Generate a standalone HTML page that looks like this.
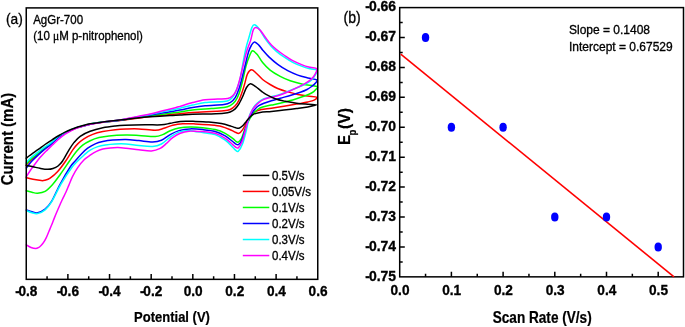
<!DOCTYPE html>
<html><head><meta charset="utf-8"><title>Figure</title>
<style>html,body{margin:0;padding:0;background:#fff}svg{display:block}text{font-family:"Liberation Sans",sans-serif;fill:#000}.b{font-weight:bold}</style></head><body>
<svg width="685" height="327" viewBox="0 0 685 327">
<rect width="685" height="327" fill="#fff"/>
<g fill="none" stroke-width="1.5" stroke-linejoin="round" stroke-linecap="round">
<path stroke="#f00" d="M26.40 164.90C26.83 164.42 28.03 162.97 29.00 162.00C29.97 161.03 30.65 160.42 32.20 159.10C33.75 157.78 36.25 155.78 38.30 154.10C40.35 152.42 42.45 150.63 44.50 149.00C46.55 147.37 48.18 146.38 50.60 144.30C53.02 142.22 56.58 138.38 59.00 136.50C61.42 134.62 63.10 134.05 65.10 133.00C67.10 131.95 68.90 131.10 71.00 130.20C73.10 129.30 74.50 128.58 77.70 127.60C80.90 126.62 86.02 125.18 90.20 124.30C94.38 123.42 97.83 122.95 102.80 122.30C107.77 121.65 112.13 121.35 120.00 120.40C127.87 119.45 141.67 117.57 150.00 116.60C158.33 115.63 165.00 115.08 170.00 114.60C175.00 114.12 176.23 114.07 180.00 113.70C183.77 113.33 187.37 112.78 192.60 112.40C197.83 112.02 206.18 111.67 211.40 111.40C216.62 111.13 220.77 111.12 223.90 110.80C227.03 110.48 228.32 110.35 230.20 109.50C232.08 108.65 233.73 107.27 235.20 105.70C236.67 104.13 237.73 102.72 239.00 100.10C240.27 97.48 241.80 92.92 242.80 90.00C243.80 87.08 244.22 85.28 245.00 82.60C245.78 79.92 246.42 76.03 247.50 73.90C248.58 71.77 250.03 69.92 251.50 69.80C252.97 69.68 254.45 71.58 256.30 73.20C258.15 74.82 260.30 77.62 262.60 79.50C264.90 81.38 267.58 83.00 270.10 84.50C272.62 86.00 274.77 87.27 277.70 88.50C280.63 89.73 284.35 90.92 287.70 91.90C291.05 92.88 294.45 93.72 297.80 94.40C301.15 95.08 304.63 95.53 307.80 96.00C310.97 96.47 315.75 96.52 316.80 97.20C317.85 97.88 315.60 99.32 314.10 100.10C312.60 100.88 310.73 101.23 307.80 101.90C304.87 102.57 300.48 103.37 296.50 104.10C292.52 104.83 288.08 105.62 283.90 106.30C279.72 106.98 275.17 107.67 271.40 108.20C267.63 108.73 264.02 108.93 261.30 109.50C258.58 110.07 256.77 110.67 255.10 111.60C253.43 112.53 252.40 113.87 251.30 115.10C250.20 116.33 249.30 117.73 248.50 119.00C247.70 120.27 247.47 120.93 246.50 122.70C245.53 124.47 243.95 127.83 242.70 129.60C241.45 131.37 240.20 132.85 239.00 133.30C237.80 133.75 236.77 132.82 235.50 132.30C234.23 131.78 233.75 131.18 231.40 130.20C229.05 129.22 225.17 127.30 221.40 126.40C217.63 125.50 213.15 125.22 208.80 124.80C204.45 124.38 199.63 124.08 195.30 123.90C190.97 123.72 186.57 123.48 182.80 123.70C179.03 123.92 175.85 124.43 172.70 125.20C169.55 125.97 166.82 127.47 163.90 128.30C160.98 129.13 159.38 130.10 155.20 130.20C151.02 130.30 143.67 129.10 138.80 128.90C133.93 128.70 129.92 128.87 126.00 129.00C122.08 129.13 119.17 129.27 115.30 129.70C111.43 130.13 106.57 130.82 102.80 131.60C99.03 132.38 95.85 133.20 92.70 134.40C89.55 135.60 86.40 137.22 83.90 138.80C81.40 140.38 79.58 142.02 77.70 143.90C75.82 145.78 74.60 147.25 72.60 150.10C70.60 152.95 68.18 157.43 65.70 161.00C63.22 164.57 60.30 168.65 57.70 171.50C55.10 174.35 52.22 176.65 50.10 178.10C47.98 179.55 46.47 179.78 45.00 180.20C43.53 180.62 43.30 180.75 41.30 180.60C39.30 180.45 35.50 179.80 33.00 179.30C30.50 178.80 27.42 177.88 26.30 177.60"/>
<path stroke="#0f0" d="M26.40 164.00C26.83 163.50 28.03 162.00 29.00 161.00C29.97 160.00 30.65 159.28 32.20 158.00C33.75 156.72 36.25 154.92 38.30 153.30C40.35 151.68 42.45 149.92 44.50 148.30C46.55 146.68 48.18 145.62 50.60 143.60C53.02 141.58 56.58 138.00 59.00 136.20C61.42 134.40 63.10 133.83 65.10 132.80C67.10 131.77 68.90 130.90 71.00 130.00C73.10 129.10 74.50 128.38 77.70 127.40C80.90 126.42 86.02 124.98 90.20 124.10C94.38 123.22 97.83 122.75 102.80 122.10C107.77 121.45 112.13 121.25 120.00 120.20C127.87 119.15 141.67 116.95 150.00 115.80C158.33 114.65 165.00 113.93 170.00 113.30C175.00 112.67 176.23 112.57 180.00 112.00C183.77 111.43 187.37 110.47 192.60 109.90C197.83 109.33 206.18 108.98 211.40 108.60C216.62 108.22 220.77 108.08 223.90 107.60C227.03 107.12 228.32 106.75 230.20 105.70C232.08 104.65 233.73 103.28 235.20 101.30C236.67 99.32 237.73 97.35 239.00 93.80C240.27 90.25 241.63 84.63 242.80 80.00C243.97 75.37 244.88 70.00 246.00 66.00C247.12 62.00 248.40 58.55 249.50 56.00C250.60 53.45 251.25 50.87 252.60 50.70C253.95 50.53 255.93 53.02 257.60 55.00C259.27 56.98 260.52 60.08 262.60 62.60C264.68 65.12 267.17 67.80 270.10 70.10C273.03 72.40 276.85 74.62 280.20 76.40C283.55 78.18 286.43 79.50 290.20 80.80C293.97 82.10 298.37 83.27 302.80 84.20C307.23 85.13 314.72 85.43 316.80 86.40C318.88 87.37 316.17 88.90 315.30 90.00C314.43 91.10 313.27 92.03 311.60 93.00C309.93 93.97 307.82 94.85 305.30 95.80C302.78 96.75 300.07 97.62 296.50 98.70C292.93 99.78 288.08 101.23 283.90 102.30C279.72 103.37 274.95 104.32 271.40 105.10C267.85 105.88 264.90 106.27 262.60 107.00C260.30 107.73 259.07 108.47 257.60 109.50C256.13 110.53 255.07 111.70 253.80 113.20C252.53 114.70 251.43 115.98 250.00 118.50C248.57 121.02 246.62 124.98 245.20 128.30C243.78 131.62 242.65 136.10 241.50 138.40C240.35 140.70 239.30 141.67 238.30 142.10C237.30 142.53 236.43 141.62 235.50 141.00C234.57 140.38 234.42 139.68 232.70 138.40C230.98 137.12 228.13 134.77 225.20 133.30C222.27 131.83 218.87 130.53 215.10 129.60C211.33 128.67 206.73 128.12 202.60 127.70C198.47 127.28 194.23 127.03 190.30 127.10C186.37 127.17 182.35 127.48 179.00 128.10C175.65 128.72 172.92 129.72 170.20 130.80C167.48 131.88 165.20 133.65 162.70 134.60C160.20 135.55 159.18 136.35 155.20 136.50C151.22 136.65 143.67 135.73 138.80 135.50C133.93 135.27 130.97 135.03 126.00 135.10C121.03 135.17 113.50 135.48 109.00 135.90C104.50 136.32 102.13 136.80 99.00 137.60C95.87 138.40 92.92 139.45 90.20 140.70C87.48 141.95 85.00 143.32 82.70 145.10C80.40 146.88 78.60 148.75 76.40 151.40C74.20 154.05 72.20 157.15 69.50 161.00C66.80 164.85 63.02 170.58 60.20 174.50C57.38 178.42 55.12 181.68 52.60 184.50C50.08 187.32 47.60 189.95 45.10 191.40C42.60 192.85 39.78 193.05 37.60 193.20C35.42 193.35 33.88 192.72 32.00 192.30C30.12 191.88 27.25 190.97 26.30 190.70"/>
<path stroke="#00f" d="M26.40 168.00C26.83 167.42 28.03 165.70 29.00 164.50C29.97 163.30 30.65 162.40 32.20 160.80C33.75 159.20 36.25 156.80 38.30 154.90C40.35 153.00 42.45 151.12 44.50 149.40C46.55 147.68 48.18 146.70 50.60 144.60C53.02 142.50 56.58 138.72 59.00 136.80C61.42 134.88 63.10 134.20 65.10 133.10C67.10 132.00 68.90 131.12 71.00 130.20C73.10 129.28 74.50 128.60 77.70 127.60C80.90 126.60 86.02 125.10 90.20 124.20C94.38 123.30 97.83 122.87 102.80 122.20C107.77 121.53 112.13 121.40 120.00 120.20C127.87 119.00 141.67 116.40 150.00 115.00C158.33 113.60 165.00 112.62 170.00 111.80C175.00 110.98 176.23 110.83 180.00 110.10C183.77 109.37 188.42 108.13 192.60 107.40C196.78 106.67 199.88 106.18 205.10 105.70C210.32 105.22 219.72 105.02 223.90 104.50C228.08 103.98 228.32 103.75 230.20 102.60C232.08 101.45 233.73 99.90 235.20 97.60C236.67 95.30 237.95 91.73 239.00 88.80C240.05 85.87 240.50 83.80 241.50 80.00C242.50 76.20 243.83 70.67 245.00 66.00C246.17 61.33 247.45 55.42 248.50 52.00C249.55 48.58 250.32 47.17 251.30 45.50C252.28 43.83 253.15 42.07 254.40 42.00C255.65 41.93 257.43 43.77 258.80 45.10C260.17 46.43 260.92 48.03 262.60 50.00C264.28 51.97 266.38 54.50 268.90 56.90C271.42 59.30 274.57 62.10 277.70 64.40C280.83 66.70 284.35 68.92 287.70 70.70C291.05 72.48 294.45 73.90 297.80 75.10C301.15 76.30 304.63 77.10 307.80 77.90C310.97 78.70 315.55 79.00 316.80 79.90C318.05 80.80 316.17 82.20 315.30 83.30C314.43 84.40 312.98 85.47 311.60 86.50C310.22 87.53 308.88 88.53 307.00 89.50C305.12 90.47 303.10 91.30 300.30 92.30C297.50 93.30 293.55 94.52 290.20 95.50C286.85 96.48 283.33 97.33 280.20 98.20C277.07 99.07 274.12 99.87 271.40 100.70C268.68 101.53 266.00 102.37 263.90 103.20C261.80 104.03 260.27 104.75 258.80 105.70C257.33 106.65 256.25 107.65 255.10 108.90C253.95 110.15 253.00 111.35 251.90 113.20C250.80 115.05 249.62 117.27 248.50 120.00C247.38 122.73 246.37 126.12 245.20 129.60C244.03 133.08 242.65 138.40 241.50 140.90C240.35 143.40 239.30 144.12 238.30 144.60C237.30 145.08 236.43 144.32 235.50 143.80C234.57 143.28 234.42 142.82 232.70 141.50C230.98 140.18 228.13 137.57 225.20 135.90C222.27 134.23 218.87 132.55 215.10 131.50C211.33 130.45 206.78 130.03 202.60 129.60C198.42 129.17 193.93 128.73 190.00 128.90C186.07 129.07 182.30 129.65 179.00 130.60C175.70 131.55 173.13 133.00 170.20 134.60C167.27 136.20 164.33 138.98 161.40 140.20C158.47 141.42 156.37 141.83 152.60 141.90C148.83 141.97 143.23 141.00 138.80 140.60C134.37 140.20 130.33 139.58 126.00 139.50C121.67 139.42 116.67 139.75 112.80 140.10C108.93 140.45 105.73 140.97 102.80 141.60C99.87 142.23 97.72 142.80 95.20 143.90C92.68 145.00 90.00 146.53 87.70 148.20C85.40 149.87 83.48 151.77 81.40 153.90C79.32 156.03 77.07 158.82 75.20 161.00C73.33 163.18 72.70 163.17 70.20 167.00C67.70 170.83 63.33 178.22 60.20 184.00C57.07 189.78 53.92 197.50 51.40 201.70C48.88 205.90 47.40 207.35 45.10 209.20C42.80 211.05 39.78 212.37 37.60 212.80C35.42 213.23 33.88 212.28 32.00 211.80C30.12 211.32 27.25 210.22 26.30 209.90"/>
<path stroke="#0ff" d="M26.40 162.60C26.83 162.10 28.03 160.60 29.00 159.60C29.97 158.60 30.65 157.90 32.20 156.60C33.75 155.30 36.25 153.37 38.30 151.80C40.35 150.23 42.45 148.65 44.50 147.20C46.55 145.75 48.18 144.97 50.60 143.10C53.02 141.23 56.58 137.75 59.00 136.00C61.42 134.25 63.10 133.62 65.10 132.60C67.10 131.58 68.90 130.78 71.00 129.90C73.10 129.02 74.50 128.28 77.70 127.30C80.90 126.32 86.02 124.88 90.20 124.00C94.38 123.12 97.83 122.65 102.80 122.00C107.77 121.35 112.13 121.35 120.00 120.10C127.87 118.85 141.67 116.13 150.00 114.50C158.33 112.87 165.00 111.35 170.00 110.30C175.00 109.25 176.23 109.07 180.00 108.20C183.77 107.33 188.42 106.03 192.60 105.10C196.78 104.17 199.88 103.18 205.10 102.60C210.32 102.02 219.72 102.12 223.90 101.60C228.08 101.08 228.52 100.58 230.20 99.50C231.88 98.42 232.73 97.30 234.00 95.10C235.27 92.90 236.75 89.15 237.80 86.30C238.85 83.45 239.43 81.88 240.30 78.00C241.17 74.12 242.05 68.00 243.00 63.00C243.95 58.00 245.03 52.17 246.00 48.00C246.97 43.83 247.82 41.40 248.80 38.00C249.78 34.60 250.97 29.80 251.90 27.60C252.83 25.40 253.25 24.65 254.40 24.80C255.55 24.95 257.02 26.22 258.80 28.50C260.58 30.78 263.00 35.50 265.10 38.50C267.20 41.50 269.52 44.37 271.40 46.50C273.28 48.63 274.32 49.57 276.40 51.30C278.48 53.03 281.18 55.07 283.90 56.90C286.62 58.73 289.55 60.68 292.70 62.30C295.85 63.92 299.87 65.52 302.80 66.60C305.73 67.68 307.97 68.18 310.30 68.80C312.63 69.42 315.97 69.27 316.80 70.30C317.63 71.33 316.17 73.38 315.30 75.00C314.43 76.62 313.27 78.50 311.60 80.00C309.93 81.50 307.82 82.67 305.30 84.00C302.78 85.33 299.63 86.67 296.50 88.00C293.37 89.33 289.63 90.80 286.50 92.00C283.37 93.20 280.43 94.37 277.70 95.20C274.97 96.03 272.40 96.40 270.10 97.00C267.80 97.60 265.78 98.00 263.90 98.80C262.02 99.60 260.38 100.57 258.80 101.80C257.22 103.03 255.65 104.58 254.40 106.20C253.15 107.82 252.20 109.70 251.30 111.50C250.40 113.30 249.80 113.98 249.00 117.00C248.20 120.02 247.55 125.20 246.50 129.60C245.45 134.00 244.07 139.80 242.70 143.40C241.33 147.00 239.50 150.07 238.30 151.20C237.10 152.33 236.43 150.87 235.50 150.20C234.57 149.53 234.42 148.87 232.70 147.20C230.98 145.53 228.13 142.30 225.20 140.20C222.27 138.10 218.87 135.88 215.10 134.60C211.33 133.32 205.95 133.02 202.60 132.50C199.25 131.98 197.27 131.82 195.00 131.50C192.73 131.18 191.67 130.50 189.00 130.60C186.33 130.70 182.13 131.02 179.00 132.10C175.87 133.18 173.13 135.12 170.20 137.10C167.27 139.08 164.33 142.43 161.40 144.00C158.47 145.57 156.37 146.23 152.60 146.50C148.83 146.77 143.23 146.03 138.80 145.60C134.37 145.17 129.92 144.18 126.00 143.90C122.08 143.62 118.75 143.73 115.30 143.90C111.85 144.07 108.22 144.45 105.30 144.90C102.38 145.35 100.32 145.73 97.80 146.60C95.28 147.47 92.52 148.67 90.20 150.10C87.88 151.53 85.98 153.38 83.90 155.20C81.82 157.02 79.77 158.87 77.70 161.00C75.63 163.13 74.28 164.17 71.50 168.00C68.72 171.83 64.35 178.30 61.00 184.00C57.65 189.70 54.05 197.90 51.40 202.20C48.75 206.50 47.40 207.90 45.10 209.80C42.80 211.70 39.78 213.12 37.60 213.60C35.42 214.08 33.88 213.22 32.00 212.70C30.12 212.18 27.25 210.87 26.30 210.50"/>
<path stroke="#f0f" d="M26.40 176.70C27.10 175.58 29.17 172.12 30.60 170.00C32.03 167.88 33.43 166.08 35.00 164.00C36.57 161.92 38.50 159.30 40.00 157.50C41.50 155.70 42.72 154.52 44.00 153.20C45.28 151.88 46.27 151.00 47.70 149.60C49.13 148.20 50.88 146.43 52.60 144.80C54.32 143.17 55.92 141.57 58.00 139.80C60.08 138.03 62.93 135.70 65.10 134.20C67.27 132.70 68.90 131.87 71.00 130.80C73.10 129.73 74.50 128.88 77.70 127.80C80.90 126.72 86.02 125.23 90.20 124.30C94.38 123.37 97.83 122.92 102.80 122.20C107.77 121.48 114.18 120.95 120.00 120.00C125.82 119.05 132.67 117.50 137.70 116.50C142.73 115.50 146.02 114.95 150.20 114.00C154.38 113.05 158.62 111.85 162.80 110.80C166.98 109.75 172.43 108.43 175.30 107.70C178.17 106.97 177.12 107.25 180.00 106.40C182.88 105.55 188.42 103.70 192.60 102.60C196.78 101.50 200.92 100.38 205.10 99.80C209.28 99.22 213.93 99.30 217.70 99.10C221.47 98.90 225.20 99.17 227.70 98.60C230.20 98.03 231.23 97.13 232.70 95.70C234.17 94.27 235.35 92.62 236.50 90.00C237.65 87.38 238.52 84.00 239.60 80.00C240.68 76.00 241.85 70.67 243.00 66.00C244.15 61.33 245.22 56.32 246.50 52.00C247.78 47.68 249.58 43.75 250.70 40.10C251.82 36.45 252.37 32.18 253.20 30.10C254.03 28.02 254.55 27.60 255.70 27.60C256.85 27.60 258.53 28.53 260.10 30.10C261.67 31.67 263.22 34.50 265.10 37.00C266.98 39.50 269.30 42.85 271.40 45.10C273.50 47.35 275.62 48.85 277.70 50.50C279.78 52.15 281.40 53.30 283.90 55.00C286.40 56.70 289.55 59.02 292.70 60.70C295.85 62.38 299.87 64.00 302.80 65.10C305.73 66.20 307.97 66.68 310.30 67.30C312.63 67.92 315.97 67.70 316.80 68.80C317.63 69.90 316.17 72.22 315.30 73.90C314.43 75.58 313.27 77.33 311.60 78.90C309.93 80.47 307.82 81.80 305.30 83.30C302.78 84.80 299.63 86.37 296.50 87.90C293.37 89.43 289.63 91.20 286.50 92.50C283.37 93.80 280.43 94.85 277.70 95.70C274.97 96.55 272.40 96.98 270.10 97.60C267.80 98.22 265.78 98.57 263.90 99.40C262.02 100.23 260.38 101.33 258.80 102.60C257.22 103.87 255.65 105.43 254.40 107.00C253.15 108.57 252.32 109.92 251.30 112.00C250.28 114.08 249.27 116.57 248.30 119.50C247.33 122.43 246.53 125.93 245.50 129.60C244.47 133.27 243.30 138.47 242.10 141.50C240.90 144.53 239.40 146.88 238.30 147.80C237.20 148.72 236.43 147.53 235.50 147.00C234.57 146.47 234.42 146.03 232.70 144.60C230.98 143.17 228.13 140.28 225.20 138.40C222.27 136.52 218.87 134.45 215.10 133.30C211.33 132.15 205.48 131.80 202.60 131.50C199.72 131.20 200.07 131.55 197.80 131.50C195.53 131.45 191.92 130.90 189.00 131.20C186.08 131.50 183.02 132.22 180.30 133.30C177.58 134.38 175.00 136.02 172.70 137.70C170.40 139.38 168.58 141.62 166.50 143.40C164.42 145.18 162.72 147.15 160.20 148.40C157.68 149.65 154.97 150.68 151.40 150.90C147.83 151.12 143.03 150.15 138.80 149.70C134.57 149.25 129.50 148.55 126.00 148.20C122.50 147.85 120.42 147.63 117.80 147.60C115.18 147.57 112.80 147.75 110.30 148.00C107.80 148.25 105.10 148.53 102.80 149.10C100.50 149.67 98.60 150.38 96.50 151.40C94.40 152.42 92.30 153.77 90.20 155.20C88.10 156.63 85.98 157.93 83.90 160.00C81.82 162.07 79.58 164.88 77.70 167.60C75.82 170.32 74.07 173.38 72.60 176.30C71.13 179.22 70.00 182.48 68.90 185.10C67.80 187.72 67.13 189.52 66.00 192.00C64.87 194.48 63.43 197.12 62.10 200.00C60.77 202.88 59.27 206.37 58.00 209.30C56.73 212.23 55.57 214.98 54.50 217.60C53.43 220.22 52.52 222.73 51.60 225.00C50.68 227.27 49.88 229.10 49.00 231.20C48.12 233.30 47.20 235.73 46.30 237.60C45.40 239.47 44.43 241.13 43.60 242.40C42.77 243.67 42.15 244.33 41.30 245.20C40.45 246.07 39.43 247.03 38.50 247.60C37.57 248.17 36.95 248.62 35.70 248.60C34.45 248.58 32.57 248.13 31.00 247.50C29.43 246.87 27.08 245.25 26.30 244.80"/>
<path stroke="#000" d="M26.30 158.20C26.75 157.83 28.05 156.73 29.00 156.00C29.95 155.27 30.45 154.90 32.00 153.80C33.55 152.70 36.13 150.95 38.30 149.40C40.47 147.85 42.62 146.15 45.00 144.50C47.38 142.85 50.27 141.00 52.60 139.50C54.93 138.00 56.92 136.72 59.00 135.50C61.08 134.28 63.10 133.20 65.10 132.20C67.10 131.20 68.90 130.37 71.00 129.50C73.10 128.63 75.53 127.72 77.70 127.00C79.87 126.28 81.92 125.73 84.00 125.20C86.08 124.67 87.07 124.35 90.20 123.80C93.33 123.25 98.62 122.43 102.80 121.90C106.98 121.37 111.43 121.02 115.30 120.60C119.17 120.18 122.38 119.83 126.00 119.40C129.62 118.97 133.00 118.43 137.00 118.00C141.00 117.57 144.50 117.22 150.00 116.80C155.50 116.38 165.00 115.80 170.00 115.50C175.00 115.20 176.23 115.22 180.00 115.00C183.77 114.78 187.37 114.38 192.60 114.20C197.83 114.02 206.18 114.05 211.40 113.90C216.62 113.75 220.77 113.62 223.90 113.30C227.03 112.98 228.32 112.73 230.20 112.00C232.08 111.27 233.73 110.25 235.20 108.90C236.67 107.55 237.73 106.00 239.00 103.90C240.27 101.80 241.55 99.03 242.80 96.30C244.05 93.57 245.25 89.58 246.50 87.50C247.75 85.42 248.83 84.00 250.30 83.80C251.77 83.60 253.42 85.05 255.30 86.30C257.18 87.55 259.82 89.95 261.60 91.30C263.38 92.65 263.73 93.15 266.00 94.40C268.27 95.65 272.00 97.65 275.20 98.80C278.40 99.95 281.65 100.57 285.20 101.30C288.75 102.03 292.73 102.72 296.50 103.20C300.27 103.68 304.42 103.93 307.80 104.20C311.18 104.47 316.80 104.33 316.80 104.80C316.80 105.27 311.18 106.37 307.80 107.00C304.42 107.63 300.48 108.08 296.50 108.60C292.52 109.12 288.08 109.63 283.90 110.10C279.72 110.57 275.37 111.02 271.40 111.40C267.43 111.78 263.03 111.95 260.10 112.40C257.17 112.85 255.48 113.33 253.80 114.10C252.12 114.87 251.25 115.78 250.00 117.00C248.75 118.22 247.52 119.93 246.30 121.40C245.08 122.87 243.92 124.65 242.70 125.80C241.48 126.95 240.28 128.00 239.00 128.30C237.72 128.60 236.27 127.92 235.00 127.60C233.73 127.28 233.67 127.07 231.40 126.40C229.13 125.73 225.17 124.33 221.40 123.60C217.63 122.87 213.15 122.37 208.80 122.00C204.45 121.63 200.05 121.50 195.30 121.40C190.55 121.30 184.48 121.08 180.30 121.40C176.12 121.72 173.35 122.73 170.20 123.30C167.05 123.87 165.58 124.55 161.40 124.80C157.22 125.05 151.15 124.72 145.10 124.80C139.05 124.88 130.07 125.10 125.10 125.30C120.13 125.50 119.02 125.58 115.30 126.00C111.58 126.42 106.98 126.92 102.80 127.80C98.62 128.68 93.97 129.88 90.20 131.30C86.43 132.72 82.92 134.42 80.20 136.30C77.48 138.18 75.78 140.30 73.90 142.60C72.02 144.90 70.78 147.03 68.90 150.10C67.02 153.17 64.42 158.35 62.60 161.00C60.78 163.65 59.60 164.75 58.00 166.00C56.40 167.25 54.73 167.95 53.00 168.50C51.27 169.05 49.77 169.33 47.60 169.30C45.43 169.27 42.43 168.72 40.00 168.30C37.57 167.88 35.28 167.27 33.00 166.80C30.72 166.33 27.42 165.72 26.30 165.50"/>
</g>
<g stroke="#000" stroke-width="1.5" fill="none">
<rect x="26.25" y="7.90" width="291.50" height="271.45"/>
<path d="M47.07 279.35v-3.0M67.89 279.35v-5.3M88.71 279.35v-3.0M109.54 279.35v-5.3M130.36 279.35v-3.0M151.18 279.35v-5.3M172.00 279.35v-3.0M192.82 279.35v-5.3M213.64 279.35v-3.0M234.46 279.35v-5.3M255.29 279.35v-3.0M276.11 279.35v-5.3M296.93 279.35v-3.0"/>
</g>
<text class="b" font-size="13" transform="translate(26.25 295.90) scale(1.050 1.180)" text-anchor="middle" stroke="#000" stroke-width="0.30">-<tspan dx="-1.3">0.8</tspan></text>
<text class="b" font-size="13" transform="translate(67.89 295.90) scale(1.050 1.180)" text-anchor="middle" stroke="#000" stroke-width="0.30">-<tspan dx="-1.3">0.6</tspan></text>
<text class="b" font-size="13" transform="translate(109.54 295.90) scale(1.050 1.180)" text-anchor="middle" stroke="#000" stroke-width="0.30">-<tspan dx="-1.3">0.4</tspan></text>
<text class="b" font-size="13" transform="translate(151.18 295.90) scale(1.050 1.180)" text-anchor="middle" stroke="#000" stroke-width="0.30">-<tspan dx="-1.3">0.2</tspan></text>
<text class="b" font-size="13" transform="translate(193.12 295.90) scale(1.050 1.180)" text-anchor="middle" stroke="#000" stroke-width="0.30">0.0</text>
<text class="b" font-size="13" transform="translate(234.76 295.90) scale(1.050 1.180)" text-anchor="middle" stroke="#000" stroke-width="0.30">0.2</text>
<text class="b" font-size="13" transform="translate(276.41 295.90) scale(1.050 1.180)" text-anchor="middle" stroke="#000" stroke-width="0.30">0.4</text>
<text class="b" font-size="13" transform="translate(318.05 295.90) scale(1.050 1.180)" text-anchor="middle" stroke="#000" stroke-width="0.30">0.6</text>
<text class="b" font-size="13" transform="translate(172.00 321.90) scale(1.000 1.150)" text-anchor="middle" stroke="#000" stroke-width="0.20">Potential (V)</text>
<text class="b" font-size="15" transform="translate(13.10 139.00) rotate(-90) scale(1.000 1.070)" text-anchor="middle" stroke="#000" stroke-width="0.20">Current (mA)</text>
<text font-size="14.5" transform="translate(6.00 23.60) scale(0.950 1.000)" stroke="#000" stroke-width="0.30">(a)</text>
<text font-size="11.5" transform="translate(33.20 23.60) scale(1.000 1.130)" stroke="#000" stroke-width="0.30">AgGr-700</text>
<text font-size="11.5" transform="translate(33.20 39.50) scale(1.000 1.130)" stroke="#000" stroke-width="0.30">(10 <tspan font-family="Liberation Serif,serif">μ</tspan>M p-nitrophenol)</text>
<path d="M242.8 175.40H269.3" stroke="#000" stroke-width="1.5"/>
<text font-size="11.5" transform="translate(272.00 179.90) scale(1.000 1.130)" stroke="#000" stroke-width="0.30">0.5V/s</text>
<path d="M242.8 191.43H269.3" stroke="#f00" stroke-width="1.5"/>
<text font-size="11.5" transform="translate(272.00 195.93) scale(1.000 1.130)" stroke="#000" stroke-width="0.30">0.05V/s</text>
<path d="M242.8 207.46H269.3" stroke="#0f0" stroke-width="1.5"/>
<text font-size="11.5" transform="translate(272.00 211.96) scale(1.000 1.130)" stroke="#000" stroke-width="0.30">0.1V/s</text>
<path d="M242.8 223.49H269.3" stroke="#00f" stroke-width="1.5"/>
<text font-size="11.5" transform="translate(272.00 227.99) scale(1.000 1.130)" stroke="#000" stroke-width="0.30">0.2V/s</text>
<path d="M242.8 239.52H269.3" stroke="#0ff" stroke-width="1.5"/>
<text font-size="11.5" transform="translate(272.00 244.02) scale(1.000 1.130)" stroke="#000" stroke-width="0.30">0.3V/s</text>
<path d="M242.8 255.55H269.3" stroke="#f0f" stroke-width="1.5"/>
<text font-size="11.5" transform="translate(272.00 260.05) scale(1.000 1.130)" stroke="#000" stroke-width="0.30">0.4V/s</text>
<g stroke="#000" stroke-width="1.5" fill="none">
<rect x="399.70" y="7.60" width="283.80" height="269.25"/>
<path d="M425.55 276.85v-3.0M451.40 276.85v-5.1M477.25 276.85v-3.0M503.10 276.85v-5.1M528.95 276.85v-3.0M554.80 276.85v-5.1M580.65 276.85v-3.0M606.50 276.85v-5.1M632.35 276.85v-3.0M658.20 276.85v-5.1M399.70 22.56h3.0M399.70 37.52h5.1M399.70 52.48h3.0M399.70 67.43h5.1M399.70 82.39h3.0M399.70 97.35h5.1M399.70 112.31h3.0M399.70 127.27h5.1M399.70 142.22h3.0M399.70 157.18h5.1M399.70 172.14h3.0M399.70 187.10h5.1M399.70 202.06h3.0M399.70 217.02h5.1M399.70 231.97h3.0M399.70 246.93h5.1M399.70 261.89h3.0"/>
</g>
<path d="M400.73 54.19L674.02 276.85" stroke="#f00" stroke-width="1.6" fill="none"/>
<ellipse cx="425.55" cy="37.62" rx="3.7" ry="4.5" fill="#00f"/>
<ellipse cx="451.40" cy="127.37" rx="3.7" ry="4.5" fill="#00f"/>
<ellipse cx="503.10" cy="127.37" rx="3.7" ry="4.5" fill="#00f"/>
<ellipse cx="554.80" cy="217.12" rx="3.7" ry="4.5" fill="#00f"/>
<ellipse cx="606.50" cy="217.12" rx="3.7" ry="4.5" fill="#00f"/>
<ellipse cx="658.20" cy="247.03" rx="3.7" ry="4.5" fill="#00f"/>
<text class="b" font-size="13" transform="translate(396.10 11.45) scale(1.075 1.180)" text-anchor="end" stroke="#000" stroke-width="0.30">-<tspan dx="-0.8">0.66</tspan></text>
<text class="b" font-size="13" transform="translate(396.10 41.45) scale(1.075 1.180)" text-anchor="end" stroke="#000" stroke-width="0.30">-<tspan dx="-0.8">0.67</tspan></text>
<text class="b" font-size="13" transform="translate(396.10 71.45) scale(1.075 1.180)" text-anchor="end" stroke="#000" stroke-width="0.30">-<tspan dx="-0.8">0.68</tspan></text>
<text class="b" font-size="13" transform="translate(396.10 101.45) scale(1.075 1.180)" text-anchor="end" stroke="#000" stroke-width="0.30">-<tspan dx="-0.8">0.69</tspan></text>
<text class="b" font-size="13" transform="translate(396.10 131.45) scale(1.075 1.180)" text-anchor="end" stroke="#000" stroke-width="0.30">-<tspan dx="-0.8">0.70</tspan></text>
<text class="b" font-size="13" transform="translate(396.10 161.45) scale(1.075 1.180)" text-anchor="end" stroke="#000" stroke-width="0.30">-<tspan dx="-0.8">0.71</tspan></text>
<text class="b" font-size="13" transform="translate(396.10 191.45) scale(1.075 1.180)" text-anchor="end" stroke="#000" stroke-width="0.30">-<tspan dx="-0.8">0.72</tspan></text>
<text class="b" font-size="13" transform="translate(396.10 221.45) scale(1.075 1.180)" text-anchor="end" stroke="#000" stroke-width="0.30">-<tspan dx="-0.8">0.73</tspan></text>
<text class="b" font-size="13" transform="translate(396.10 251.45) scale(1.075 1.180)" text-anchor="end" stroke="#000" stroke-width="0.30">-<tspan dx="-0.8">0.74</tspan></text>
<text class="b" font-size="13" transform="translate(396.10 281.45) scale(1.075 1.180)" text-anchor="end" stroke="#000" stroke-width="0.30">-<tspan dx="-0.8">0.75</tspan></text>
<text class="b" font-size="13" transform="translate(400.00 295.20) scale(1.050 1.180)" text-anchor="middle" stroke="#000" stroke-width="0.30">0.0</text>
<text class="b" font-size="13" transform="translate(451.70 295.20) scale(1.050 1.180)" text-anchor="middle" stroke="#000" stroke-width="0.30">0.1</text>
<text class="b" font-size="13" transform="translate(503.40 295.20) scale(1.050 1.180)" text-anchor="middle" stroke="#000" stroke-width="0.30">0.2</text>
<text class="b" font-size="13" transform="translate(555.10 295.20) scale(1.050 1.180)" text-anchor="middle" stroke="#000" stroke-width="0.30">0.3</text>
<text class="b" font-size="13" transform="translate(606.80 295.20) scale(1.050 1.180)" text-anchor="middle" stroke="#000" stroke-width="0.30">0.4</text>
<text class="b" font-size="13" transform="translate(658.50 295.20) scale(1.050 1.180)" text-anchor="middle" stroke="#000" stroke-width="0.30">0.5</text>
<text class="b" font-size="13.6" transform="translate(542.20 322.70) scale(1.000 1.150)" text-anchor="middle" stroke="#000" stroke-width="0.20">Scan Rate (V/s)</text>
<text font-size="14.5" transform="translate(343.60 22.50) scale(0.970 1.130)" stroke="#000" stroke-width="0.30">(b)</text>
<text font-size="12" transform="translate(569.00 33.80) scale(1.000 1.130)" stroke="#000" stroke-width="0.30">Slope = 0.1408</text>
<text font-size="12" transform="translate(569.00 51.40) scale(1.000 1.130)" stroke="#000" stroke-width="0.30">Intercept = 0.67529</text>
<g class="b" transform="translate(349.6 144.9) rotate(-90) scale(1 1.07)" stroke="#000" stroke-width="0.2"><text font-size="15" x="0" y="0">E</text><text font-size="9.5" x="9.3" y="6">p</text><text font-size="15.7" x="16" y="0">(V)</text></g>
</svg></body></html>
